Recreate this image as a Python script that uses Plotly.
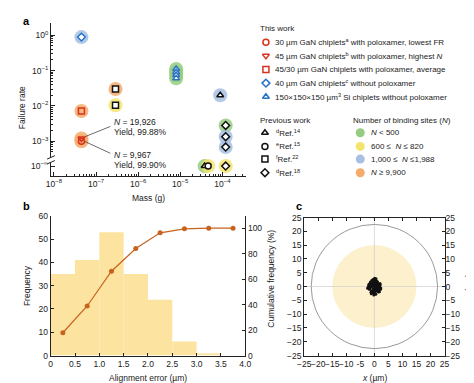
import plotly.graph_objects as go

W, H = 474, 383
FONT = "Liberation Sans, Arial, sans-serif"
INK = "#222222"

# ---------------- Panel a data ----------------
ZERO_POS = 10 ** -3.7   # display position of zero failure rate ("10^-inf")

# This work
lowest_fr_mass = [4.5e-8]; lowest_fr_rate = [0.0010]; lowest_fr_grp = ["ge9900"]
highest_n_mass = [4.5e-8]; highest_n_rate = [0.0012]; highest_n_grp = ["ge9900"]
average_mass = [4.5e-8]; average_rate = [0.0072]; average_grp = ["ge9900"]
nopolox_mass = [4.5e-8]; nopolox_rate = [0.88]; nopolox_grp = ["1000-1988"]
si_mass = [8e-6, 8e-6, 8e-6, 8e-6]; si_rate = [0.11, 0.09, 0.075, 0.06]
si_grp = ["lt500", "lt500", "lt500", "lt500"]
# Previous work
ref14_mass = [8.9e-5, 3.8e-5]; ref14_rate = [0.020, 0.0]; ref14_grp = ["1000-1988", "lt500"]
ref15_mass = [4.6e-5]; ref15_rate = [0.0]; ref15_grp = ["600-820"]
ref22_mass = [2.9e-7, 2.9e-7]; ref22_rate = [0.030, 0.0104]; ref22_grp = ["ge9900", "600-820"]
ref18_mass = [1.2e-4, 1.2e-4, 1.2e-4, 1.2e-4]
ref18_rate = [0.0028, 0.00135, 0.00069, 0.0]
ref18_grp = ["lt500", "1000-1988", "1000-1988", "600-820"]

GROUP_COLORS = {"lt500": "#95cc80", "600-820": "#f5e46c",
                "1000-1988": "#a6bfe2", "ge9900": "#f5ab6c"}
GROUP_LABELS = ["<i>N</i> < 500", "600 ≤  <i>N</i> ≤ 820",
                "1,000 ≤  <i>N</i> ≤1,988", "<i>N</i> ≥ 9,900"]
RED = "#d8321e"; BLUE = "#2a72c6"; BLACK = "#111111"

THIS_WORK_LABELS = [
    "30 µm GaN chiplets<sup>a</sup> with poloxamer, lowest FR",
    "45 µm GaN chiplets<sup>b</sup> with poloxamer, highest <i>N</i>",
    "45/30 µm GaN chiplets with poloxamer, average",
    "40 µm GaN chiplets<sup>c</sup> without poloxamer",
    "150×150×150 µm<sup>3</sup> Si chiplets without poloxamer",
]
PREV_LABELS = ["<sup>d</sup>Ref.<sup>14</sup>", "<sup>e</sup>Ref.<sup>15</sup>",
               "<sup>f</sup>Ref.<sup>22</sup>", "<sup>d</sup>Ref.<sup>18</sup>"]

MASS_TICKS = [1e-8, 1e-7, 1e-6, 1e-5, 1e-4]
MASS_TICKTEXT = ["10<sup>−8</sup>", "10<sup>−7</sup>", "10<sup>−6</sup>",
                 "10<sup>−5</sup>", "10<sup>−4</sup>"]
FR_TICKS = [ZERO_POS, 1e-3, 1e-2, 1e-1, 1]
FR_TICKTEXT = ["10<sup>−∞</sup>", "10<sup>−3</sup>", "10<sup>−2</sup>",
               "10<sup>−1</sup>", "10<sup>0</sup>"]

# ---------------- Panel b data ----------------
bin_centers = [0.25, 0.75, 1.25, 1.75, 2.25, 2.75, 3.25, 3.75]
frequency = [35, 41, 53, 35, 24, 6, 1, 0]
cumulative_pct = [17.9, 38.9, 66.2, 84.1, 96.4, 99.5, 100, 100]
B_XTICKS = [0, 0.5, 1, 1.5, 2, 2.5, 3, 3.5, 4]
B_XTICKTEXT = ["0", "0.5", "1.0", "1.5", "2.0", "2.5", "3.0", "3.5", "4.0"]

# ---------------- Panel c data ----------------
offset_x = [0.3, -0.5, 1.1, -1.2, 0.8, -0.2, 1.5, -1.6, 0.4, -0.9, 0.0, 1.9, -0.4, 0.6, -1.3,
            1.2, 0.2, -0.7, 1.0, -1.8, 0.5, -0.1, 1.4, -1.0, 0.9, -0.6, 0.1, 2.1, -1.4, 0.7,
            -0.3, 1.6, -0.8, 0.3, -1.1, 1.3, -2.0, 0.6, -0.5, 1.8, 0.0, -1.5, 1.1, -0.2, 0.8,
            -0.9, 2.3, -1.7, 0.4, -0.4, 1.7, -1.2, 0.2, 1.0, -0.6, 0.5, -2.2, 1.4, -0.1, 0.9,
            -2.4, 2.0, -1.9, 1.6, -0.8, 2.2, -1.4, 0.7]
offset_y = [0.2, 1.4, -0.6, 0.3, 1.9, -1.2, 0.9, -0.4, -1.8, 2.2, 0.7, -0.2, -0.8, 2.8, 1.1,
            -1.5, -2.5, 0.0, 1.2, -1.0, -0.3, 1.7, -2.0, -1.6, 0.4, -2.3, 3.0, 0.6, 1.6, -1.1,
            0.9, -0.9, -0.1, 1.3, -2.6, 0.1, 0.5, -0.7, 2.5, -1.9, -1.4, -0.9, 1.7, -3.1, 0.8,
            1.0, -0.5, 0.2, 2.0, -1.7, 0.4, -2.1, -0.6, -0.2, 0.5, -2.8, -0.3, 1.0, 2.4, -1.3,
            -0.6, 1.1, 0.9, -1.4, -2.0, -1.0, -0.2, 1.5]
target_radius = 15.0
outer_radius = 22.5
C_TICKS = [-25, -20, -15, -10, -5, 0, 5, 10, 15, 20, 25]
C_XTICKTEXT = ["−25", "−20", "−15", "−10", "-5", "0", "5", "10", "15", "20", "25"]
C_YTICKTEXT = ["−25", "−20", "−15", "−10", "−5", "0", "5", "10", "15", "20", "25"]


def px(x):
    return x / W


def py(y):
    return 1 - y / H


def fr(v):
    return [r if r > 0 else ZERO_POS for r in v]


fig = go.Figure()

# ---- panel a: halos ----
all_mass = (lowest_fr_mass + highest_n_mass + average_mass + nopolox_mass + si_mass +
            ref14_mass + ref15_mass + ref22_mass + ref18_mass)
all_rate = (lowest_fr_rate + highest_n_rate + average_rate + nopolox_rate + si_rate +
            ref14_rate + ref15_rate + ref22_rate + ref18_rate)
all_grp = (lowest_fr_grp + highest_n_grp + average_grp + nopolox_grp + si_grp +
           ref14_grp + ref15_grp + ref22_grp + ref18_grp)
fig.add_trace(go.Scatter(x=all_mass, y=fr(all_rate), mode="markers", xaxis="x", yaxis="y",
                         marker=dict(size=14, color=[GROUP_COLORS[g] for g in all_grp],
                                     opacity=0.85, line=dict(width=0)),
                         hoverinfo="skip"))


def sym(mass, rate, symbol, color, fill):
    fig.add_trace(go.Scatter(x=mass, y=fr(rate), mode="markers", xaxis="x", yaxis="y",
                             marker=dict(symbol=symbol, size=6, color=fill,
                                         line=dict(color=color, width=1.5))))


sym(lowest_fr_mass, lowest_fr_rate, "circle", RED, "rgba(0,0,0,0)")
sym(highest_n_mass, highest_n_rate, "triangle-down", RED, "rgba(0,0,0,0)")
sym(average_mass, average_rate, "square", RED, "rgba(0,0,0,0)")
sym(nopolox_mass, nopolox_rate, "diamond", BLUE, "white")
sym(si_mass, si_rate, "triangle-up", BLUE, "white")
sym(ref14_mass, ref14_rate, "triangle-up", BLACK, "white")
sym(ref15_mass, ref15_rate, "circle", BLACK, "white")
sym(ref22_mass, ref22_rate, "square", BLACK, "white")
sym(ref18_mass, ref18_rate, "diamond", BLACK, "white")

# ---- panel b ----
fig.add_trace(go.Bar(x=bin_centers, y=frequency, width=0.5, xaxis="x2", yaxis="y2",
                     marker=dict(color="#fde3a0", line=dict(width=0))))
fig.add_trace(go.Scatter(x=bin_centers, y=cumulative_pct, mode="lines+markers",
                         xaxis="x2", yaxis="y3",
                         line=dict(color="#c8631e", width=1.2),
                         marker=dict(color="#c8631e", size=5)))

# ---- panel c ----
fig.add_trace(go.Scatter(x=offset_x, y=offset_y, mode="markers", xaxis="x4", yaxis="y4",
                         marker=dict(color="#111111", size=3)))
fig.add_trace(go.Scatter(x=[0], y=[0], mode="markers", xaxis="x4", yaxis="y5",
                         marker=dict(size=0.1, color="rgba(0,0,0,0)"), hoverinfo="skip"))

# ---- legend (drawn in a pixel-space helper axis) ----
tw_rows = [30, 44, 58, 72, 86]
fig.add_trace(go.Scatter(
    x=[258] * 5, y=tw_rows, mode="markers", xaxis="x5", yaxis="y6",
    marker=dict(symbol=["circle", "triangle-down", "square", "diamond", "triangle-up"],
                size=6, color=["rgba(0,0,0,0)"] * 3 + ["white", "white"],
                line=dict(color=[RED, RED, RED, BLUE, BLUE], width=1.5))))
prev_rows = [123, 137, 150, 164]
fig.add_trace(go.Scatter(
    x=[257] * 4, y=prev_rows, mode="markers", xaxis="x5", yaxis="y6",
    marker=dict(symbol=["triangle-up", "circle", "square", "diamond"], size=6,
                color="white", line=dict(color=BLACK, width=1.5))))
fig.add_trace(go.Scatter(
    x=[355] * 4, y=prev_rows, mode="markers", xaxis="x5", yaxis="y6",
    marker=dict(size=9, color=[GROUP_COLORS[g] for g in ["lt500", "600-820", "1000-1988", "ge9900"]],
                line=dict(width=0))))

axis_common = dict(showgrid=False, zeroline=False, showline=True, linecolor=INK, linewidth=1,
                   ticks="inside", ticklen=3, tickcolor=INK, tickwidth=1, tickangle=0,
                   tickfont=dict(size=8.5, color=INK, family=FONT))

mass_minor = [k * 10 ** e for e in range(-8, -3) for k in range(2, 10) if k * 10 ** e < 3.5e-4]
fr_minor = [k * 10 ** e for e in range(-4, 0) for k in range(2, 10) if k * 10 ** e >= 5e-4]

fig.update_layout(
    width=W, height=H, margin=dict(l=0, r=0, t=0, b=0),
    paper_bgcolor="white", plot_bgcolor="rgba(0,0,0,0)", showlegend=False,
    font=dict(family=FONT, size=8.5, color=INK),
    xaxis=dict(axis_common, type="log", domain=[px(37), px(237)], anchor="y",
               range=[-8.07, -3.45], tickmode="array", tickvals=MASS_TICKS,
               ticktext=MASS_TICKTEXT, ticklen=4,
               minor=dict(tickmode="array", tickvals=mass_minor, ticks="inside",
                          ticklen=2, tickcolor=INK)),
    yaxis=dict(axis_common, type="log", domain=[py(167), py(10)], anchor="x",
               range=[-3.97, 0.35], tickmode="array", tickvals=FR_TICKS,
               ticktext=FR_TICKTEXT, ticklen=4,
               minor=dict(tickmode="array", tickvals=fr_minor, ticks="inside",
                          ticklen=2, tickcolor=INK)),
    xaxis2=dict(axis_common, domain=[px(36.7), px(236.7)], anchor="y2", range=[0, 4],
                tickmode="array", tickvals=B_XTICKS, ticktext=B_XTICKTEXT),
    yaxis2=dict(axis_common, domain=[py(351.7), py(208.3)], anchor="x2", range=[0, 60],
                tickmode="array", tickvals=[0, 10, 20, 30, 40, 50, 60]),
    yaxis3=dict(axis_common, overlaying="y2", side="right", anchor="x2", range=[0, 109.7],
                tickmode="array", tickvals=[0, 20, 40, 60, 80, 100]),
    xaxis4=dict(axis_common, domain=[px(297.3), px(441.7)], anchor="y4", range=[-25, 25],
                mirror="ticks", tickmode="array", tickvals=C_TICKS, ticktext=C_XTICKTEXT),
    yaxis4=dict(axis_common, domain=[py(351.7), py(210)], anchor="x4", range=[-25, 25],
                mirror="ticks", tickmode="array", tickvals=C_TICKS, ticktext=C_YTICKTEXT),
    yaxis5=dict(axis_common, overlaying="y4", side="right", anchor="x4", range=[-25, 25],
                showline=False, ticks="", tickmode="array", tickvals=C_TICKS,
                ticktext=C_YTICKTEXT),
    xaxis5=dict(domain=[0, 1], anchor="y6", range=[0, W], visible=False, fixedrange=True),
    yaxis6=dict(domain=[0, 1], anchor="x5", range=[H, 0], visible=False, fixedrange=True),
)

shapes = []
# panel c circles and cross lines
shapes.append(dict(type="circle", xref="x4", yref="y4", x0=-target_radius, x1=target_radius,
                   y0=-target_radius, y1=target_radius, fillcolor="#fdf0cd",
                   line=dict(width=0), layer="below"))
shapes.append(dict(type="line", xref="x4", yref="y4", x0=0, x1=0, y0=-25, y1=25,
                   line=dict(color="#d2d2d2", width=0.8), layer="below"))
shapes.append(dict(type="line", xref="x4", yref="y4", x0=-25, x1=25, y0=0, y1=0,
                   line=dict(color="#d2d2d2", width=0.8), layer="below"))
shapes.append(dict(type="circle", xref="x4", yref="y4", x0=-outer_radius, x1=outer_radius,
                   y0=-outer_radius, y1=outer_radius, line=dict(color="#9a9a9a", width=1),
                   layer="below"))
# axis break on panel a y-axis
shapes.append(dict(type="rect", xref="paper", yref="paper", x0=px(33), x1=px(41),
                   y0=py(154), y1=py(148), fillcolor="white", line=dict(width=0)))
shapes.append(dict(type="line", xref="paper", yref="paper", x0=px(33), x1=px(41),
                   y0=py(150), y1=py(146.5), line=dict(color=INK, width=1)))
shapes.append(dict(type="line", xref="paper", yref="paper", x0=px(33), x1=px(41),
                   y0=py(155), y1=py(151.5), line=dict(color=INK, width=1)))
# leader lines for yield annotations
shapes.append(dict(type="line", xref="paper", yref="paper", x0=px(72), x1=px(98),
                   y0=py(127), y1=py(116.5), line=dict(color="#444", width=0.8)))
shapes.append(dict(type="line", xref="paper", yref="paper", x0=px(72), x1=px(98),
                   y0=py(132), y1=py(144), line=dict(color="#444", width=0.8)))

ann = []


def text(x, y, s, size=8.5, xanchor="left", angle=0, bold=False):
    ann.append(dict(x=px(x), y=py(y), xref="paper", yref="paper", text=s, showarrow=False,
                    xanchor=xanchor, yanchor="middle", textangle=angle,
                    font=dict(size=size, family=FONT, color="#000" if bold else INK)))


text(12, 8, "<b>a</b>", size=11, xanchor="center", bold=True)
text(12, 198, "<b>b</b>", size=11, xanchor="center", bold=True)
text(292, 198, "<b>c</b>", size=11, xanchor="center", bold=True)

text(8, 97, "Failure rate", xanchor="center", angle=-90)
text(137, 190, "Mass (g)", xanchor="center")
text(11.7, 280, "Frequency", xanchor="center", angle=-90)
text(136.7, 375, "Alignment error (µm)", xanchor="center")
text(263, 273, "Cumulative frequency (%)", xanchor="center", angle=-90)
text(370, 375, "<i>x</i> (µm)", xanchor="center")
text(466.5, 281, "<i>y</i> (µm)", xanchor="center", angle=-90)

text(100, 111.7, "<i>N</i> = 19,926")
text(100, 122.3, "Yield, 99.88%")
text(100, 145.7, "<i>N</i> = 9,967")
text(100, 156.2, "Yield, 99.90%")

text(250, 16, "This work", size=8)
for yy, s in zip(tw_rows, THIS_WORK_LABELS):
    text(265, yy, s, size=8)
text(250, 110, "Previous work", size=8)
text(345, 110, "Number of binding sites (<i>N</i>)", size=8)
for yy, s in zip(prev_rows, PREV_LABELS):
    text(266, yy, s, size=8)
for yy, s in zip(prev_rows, GROUP_LABELS):
    text(364, yy, s, size=8)

fig.update_layout(shapes=shapes, annotations=ann)
fig.write_html("out.html")
